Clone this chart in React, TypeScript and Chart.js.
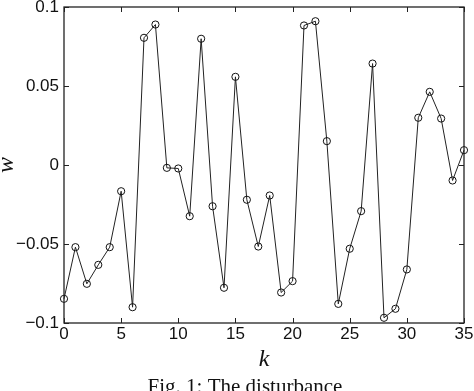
import React, { useEffect, useRef } from "react";
import { Chart, registerables } from "chart.js";

Chart.register(...registerables);

const kValues: number[] = Array.from({ length: 36 }, (_, i) => i);
const wValues: number[] = [
  -0.0847, -0.052, -0.0752, -0.0632, -0.052, -0.0166, -0.09, 0.0805, 0.0889, -0.0018,
  -0.0022, -0.0324, 0.0799, -0.0261, -0.0777, 0.0558, -0.022, -0.0516, -0.0193, -0.0807,
  -0.0735, 0.0883, 0.091, 0.0151, -0.0879, -0.053, -0.0292, 0.0642, -0.0967, -0.091,
  -0.0661, 0.0299, 0.0463, 0.0294, -0.0098, 0.0094,
];
const xTickValues: number[] = [0, 5, 10, 15, 20, 25, 30, 35];
const yTickValues: number[] = [-0.1, -0.05, 0, 0.05, 0.1];
const yTickLabels: string[] = ["\u22120.1", "\u22120.05", "0", "0.05", "0.1"];
const xLabel = "k";
const yLabel = "w";
const caption = "Fig. 1: The disturbance";

const TICK_FONT = "Liberation Sans, Arial, sans-serif";
const SERIF = "Liberation Serif, Times New Roman, serif";

const framePlugin = {
  id: "frame",
  afterDraw(chart: any) {
    const { ctx, chartArea: a, scales } = chart;
    const xs = scales.x;
    const ys = scales.y;
    ctx.save();
    ctx.strokeStyle = "#222";
    ctx.lineWidth = 1.3;
    ctx.strokeRect(a.left, a.top, a.right - a.left, a.bottom - a.top);
    ctx.lineWidth = 1;
    const L = 5;
    ctx.beginPath();
    for (const v of xTickValues) {
      const px = Math.round(xs.getPixelForValue(v)) + 0.5;
      ctx.moveTo(px, a.bottom);
      ctx.lineTo(px, a.bottom - L);
      ctx.moveTo(px, a.top);
      ctx.lineTo(px, a.top + L);
    }
    for (const v of yTickValues) {
      const py = Math.round(ys.getPixelForValue(v)) + 0.5;
      ctx.moveTo(a.left, py);
      ctx.lineTo(a.left + L, py);
      ctx.moveTo(a.right, py);
      ctx.lineTo(a.right - L, py);
    }
    ctx.stroke();

    ctx.fillStyle = "#111";
    ctx.font = `italic 24px ${SERIF}`;
    ctx.textAlign = "center";
    ctx.textBaseline = "alphabetic";
    ctx.fillText(xLabel, (a.left + a.right) / 2, 366);

    ctx.save();
    ctx.translate(13, (a.top + a.bottom) / 2);
    ctx.rotate(-Math.PI / 2);
    ctx.font = `italic 24px ${SERIF}`;
    ctx.fillText(yLabel, 0, 0);
    ctx.restore();

    ctx.font = `21px ${SERIF}`;
    ctx.textAlign = "center";
    ctx.fillText(caption, 245, 393);
    ctx.restore();
  },
};

export default function App() {
  const ref = useRef<HTMLCanvasElement | null>(null);
  useEffect(() => {
    if (!ref.current) return;
    const chart = new Chart(ref.current, {
      type: "line",
      data: {
        datasets: [
          {
            data: kValues.map((k, i) => ({ x: k, y: wValues[i] })),
            borderColor: "#222",
            borderWidth: 1,
            pointRadius: 3.6,
            pointBorderWidth: 1,
            pointBorderColor: "#111",
            pointBackgroundColor: "rgba(0,0,0,0)",
            pointStyle: "circle",
            tension: 0,
            clip: false as any,
          },
        ],
      },
      options: {
        animation: false,
        responsive: false,
        events: [],
        layout: { padding: { left: 0, right: 10, top: 7, bottom: 0 } },
        plugins: { legend: { display: false }, tooltip: { enabled: false } },
        scales: {
          x: {
            type: "linear",
            min: 0,
            max: 35,
            border: { display: false },
            grid: { display: false, drawTicks: false },
            afterFit: (s: any) => {
              s.height = 68;
              s.paddingLeft = 0;
              s.paddingRight = 0;
            },
            afterBuildTicks: (s: any) => {
              s.ticks = xTickValues.map((v) => ({ value: v }));
            },
            ticks: {
              padding: 1,
              color: "#111",
              font: { family: TICK_FONT, size: 17 },
              maxRotation: 0,
              autoSkip: false,
              callback: (v: any) => String(v),
            },
          },
          y: {
            type: "linear",
            min: -0.1,
            max: 0.1,
            border: { display: false },
            grid: { display: false, drawTicks: false },
            afterFit: (s: any) => {
              s.width = 64;
              s.paddingTop = 0;
              s.paddingBottom = 0;
            },
            afterBuildTicks: (s: any) => {
              s.ticks = yTickValues.map((v) => ({ value: v }));
            },
            ticks: {
              padding: 5,
              color: "#111",
              font: { family: TICK_FONT, size: 17 },
              autoSkip: false,
              callback: (v: any) => {
                const idx = yTickValues.findIndex((t) => Math.abs(t - Number(v)) < 1e-9);
                return idx >= 0 ? yTickLabels[idx] : "";
              },
            },
          },
        },
      },
      plugins: [framePlugin],
    });
    return () => chart.destroy();
  }, []);
  return (
    <div style={{ position: "fixed", left: 0, top: 0, width: 474, height: 391, background: "#fff" }}>
      <canvas ref={ref} width={474} height={391} style={{ display: "block" }} />
    </div>
  );
}
